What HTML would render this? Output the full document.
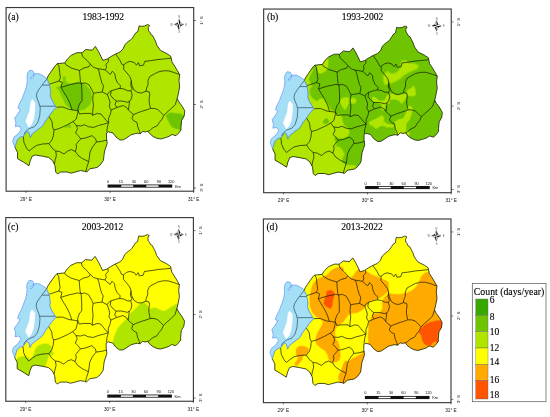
<!DOCTYPE html>
<html><head><meta charset="utf-8"><title>Figure</title>
<style>html,body{margin:0;padding:0;background:#fff}svg{display:block}text{font-family:"Liberation Serif",serif;fill:#000;stroke:#000;stroke-width:0.12px}.s{stroke:none;font-family:"Liberation Sans",sans-serif;font-size:4.7px;fill:#111}</style></head><body>
<svg width="550" height="417" viewBox="0 0 550 417">
<rect width="550" height="417" fill="#fff"/>
<defs>
<clipPath id="rw"><path d="M46.9,78.9 L48,76.2 L50.2,72.9 L52.9,69.1 L55.6,65.3 L57.3,63.6 L59,63.5 L64.8,62.9 L67.4,59 L71.2,55.3 L76.9,52.7 L82,52.7 L85.8,49.5 L92.2,50.2 L95.4,46.4 L98.5,51.5 L101,56.5 L102.8,60.4 L107.2,59 L111,56.5 L115.5,54 L120,52 L123,49 L125,44.5 L128.8,41 L130,40.5 L132.2,38.3 L134.4,35 L135.8,32.8 L138,31.4 L138.4,28.8 L139.1,25.9 L141.5,26.3 L144.5,26 L147.5,24.5 L149.6,25.5 L148.2,27.7 L148.5,30.6 L150,32.5 L150.7,34.3 L152.5,35.4 L154,38.3 L155.5,41.2 L157,45.5 L160.6,50.5 L167,53.7 L170.8,56.3 L172,62 L174,65 L177.2,70.2 L179.7,74.6 L179,80.4 L179.7,86.7 L178.5,93 L177.2,98.5 L179,102 L182.3,106.5 L184.8,111 L184.2,116 L181.6,120.5 L181,126.8 L181,130 L178.5,133.2 L176,135.7 L172,134.5 L169,136.4 L165.7,137.6 L160.6,139 L156.8,138.3 L153,136.4 L149.8,133.8 L148,131.3 L145.4,132 L142.8,131.3 L140.3,133.8 L137.7,133.2 L134.5,133.8 L130.7,135 L127,137.6 L123.5,139.8 L120,140 L116,137 L113,133 L108.5,131.8 L106.5,133 L106.5,138.2 L107.2,143.3 L106,147 L104.6,151 L104,155.4 L103.4,160.5 L100.2,165 L97,167.5 L94.5,168 L90,168.7 L86.8,172 L85,171.3 L80.5,170.6 L75.4,172 L71,173.2 L67,172 L60.7,172 L57.6,174 L55.7,172 L55,165.7 L52.5,160.6 L48.7,157.5 L42.4,156.2 L35.4,155 L32.2,156.2 L30.3,160.6 L29,165.7 L23.3,162 L17.5,158.7 L17.5,152.4 L15,147.3 L15.6,145.4 L17.5,139.6 L20.7,137 L23.3,136.5 L27,131.4 L29,132.6 L30.3,137.7 L32.2,134 L37.3,130 L42.4,126.3 L45.5,121 L49,116.5 L52,112 L56.5,107.2 L55.6,106.2 L54,103.5 L51.8,99.6 L50.2,95.8 L50.7,92.5 L50.2,88.2 L49.1,83.3Z"/></clipPath>
<g id="ol"><path d="M15,147.3 L15.6,145.4 L17.5,139.6 L20.7,137 L23.3,136.5 L27,131.4 L29,132.6 L30.3,137.7 L32.2,134 L37.3,130 L42.4,126.3 L45.5,121 L49,116.5 L52,112 L56.5,107.2 L55.6,106.2 L54,103.5 L51.8,99.6 L50.2,95.8 L50.7,92.5 L50.2,88.2 L49.1,83.3 L46.9,78.9" fill="none" stroke="#4f86f7" stroke-width="0.7" stroke-linejoin="round"/><path d="M46.9,78.9 L48,76.2 L50.2,72.9 L52.9,69.1 L55.6,65.3 L57.3,63.6 L59,63.5 L64.8,62.9 L67.4,59 L71.2,55.3 L76.9,52.7 L82,52.7 L85.8,49.5 L92.2,50.2 L95.4,46.4 L98.5,51.5 L101,56.5 L102.8,60.4 L107.2,59 L111,56.5 L115.5,54 L120,52 L123,49 L125,44.5 L128.8,41 L130,40.5 L132.2,38.3 L134.4,35 L135.8,32.8 L138,31.4 L138.4,28.8 L139.1,25.9 L141.5,26.3 L144.5,26 L147.5,24.5 L149.6,25.5 L148.2,27.7 L148.5,30.6 L150,32.5 L150.7,34.3 L152.5,35.4 L154,38.3 L155.5,41.2 L157,45.5 L160.6,50.5 L167,53.7 L170.8,56.3 L172,62 L174,65 L177.2,70.2 L179.7,74.6 L179,80.4 L179.7,86.7 L178.5,93 L177.2,98.5 L179,102 L182.3,106.5 L184.8,111 L184.2,116 L181.6,120.5 L181,126.8 L181,130 L178.5,133.2 L176,135.7 L172,134.5 L169,136.4 L165.7,137.6 L160.6,139 L156.8,138.3 L153,136.4 L149.8,133.8 L148,131.3 L145.4,132 L142.8,131.3 L140.3,133.8 L137.7,133.2 L134.5,133.8 L130.7,135 L127,137.6 L123.5,139.8 L120,140 L116,137 L113,133 L108.5,131.8 L106.5,133 L106.5,138.2 L107.2,143.3 L106,147 L104.6,151 L104,155.4 L103.4,160.5 L100.2,165 L97,167.5 L94.5,168 L90,168.7 L86.8,172 L85,171.3 L80.5,170.6 L75.4,172 L71,173.2 L67,172 L60.7,172 L57.6,174 L55.7,172 L55,165.7 L52.5,160.6 L48.7,157.5 L42.4,156.2 L35.4,155 L32.2,156.2 L30.3,160.6 L29,165.7 L23.3,162 L17.5,158.7 L17.5,152.4 L15,147.3" fill="none" stroke="#0c1200" stroke-width="0.75" stroke-linejoin="round"/></g>
<g id="lake"><path d="M29.7,70.2 L32.6,70.7 L34.1,73.1 L33.6,75.5 L31.8,76.3 L30.6,78.6 L32.4,78.2 L33.6,76 L34.6,73.7 L38.9,73.6 L41.7,75 L45.6,77.4 L46.9,78.9 L49.1,83.3 L50.2,88.2 L50.7,92.5 L50.2,95.8 L51.8,99.6 L54,103.5 L55.6,106.2 L56.5,107.2 L52,112 L49,116.5 L45.5,121 L42.4,126.3 L37.3,130 L32.2,134 L30.3,137.7 L29,132.6 L27,131.4 L23.3,136.5 L20.7,137 L17.5,139.6 L15.6,145.4 L15,147.3 L12.6,141.2 L13.9,137.2 L18.6,133.3 L21.2,129.3 L19.2,126 L15.3,126.7 L15.9,122.7 L14.6,118 L17.2,114.8 L20.5,109.5 L17.9,108.2 L19.2,104.2 L22,99 L23.5,94.7 L25.4,89.9 L26.4,86.5 L27.2,82 L27.3,79.3 L26.9,76.5 L27.8,72.6Z" fill="#a4dff6" stroke="#4f86f7" stroke-width="0.6" stroke-linejoin="round"/><path d="M32.4,99.6 L35,103 L35,108.2 L34.4,113.5 L33.7,118.7 L31.7,124 L29.1,127.3 L27.8,125.3 L25.8,121.4 L27.8,116 L29.8,110.8 L30.4,105.5 L31,101.6Z" fill="#fff" stroke="#fff" stroke-width="0.6" stroke-linejoin="round"/><path d="M46.9,78.9 L43.1,83.8 L39.8,88.2 L37.1,92.5 L36.4,96 L37.6,100 L39,103 L40.3,108.2 L39.7,116 L37.7,122.7 L34.4,126.7 L29.1,128.6 L25.8,131.3 L23.8,134.6" fill="none" stroke="#2f4a55" stroke-width="0.7"/><path d="M42.5,85.1 L49.6,85.1" fill="none" stroke="#2f4a55" stroke-width="0.7"/><path d="M40,106.2 L55.6,106.2" fill="none" stroke="#2f4a55" stroke-width="0.7"/></g>
<g id="dist" fill="none" stroke="#0c1200" stroke-width="0.68" stroke-linejoin="round"><path d="M57.3,63.6 L59,66.4 L59.7,72.7 L60.4,77.8 L59,81 L51.5,83.5 L49.5,84.2"/><path d="M59,81 L62.3,82.3 L61,87.4"/><path d="M61,87.4 L69.3,84.8 L78.2,82.9 L81.4,83.5"/><path d="M61,87.4 L63.5,91.8 L66.7,96.9 L69.9,103.3 L71.8,109 L72,110"/><path d="M64.8,62.9 L66,64.8 L71.2,68 L79.5,70.5 L83.9,68 L89,66.7 L90.3,64.2 L87,60.4 L82.6,56.5 L81.6,52.7"/><path d="M79.5,70.5 L80,76.9 L80.5,82 L81.4,83.5 L82,91.8 L82,100.7 L79.5,103.9 L77.8,109 L78.2,110.8"/><path d="M81.4,83.5 L85.2,82.9 L89,84.8 L92.2,90.5 L93.4,93.4"/><path d="M90.3,64.2 L93.8,67.4 L97.6,68.6 L99,71.2 L100.2,76.9 L102,83.3 L103.5,85.7 L102.3,92 L96.5,92.7 L93.4,93.4"/><path d="M97.6,68.6 L105.3,69.9 L106.5,67.4 L105.9,64.2 L108.5,61.6 L108.2,58.7"/><path d="M105.3,69.9 L107.2,71.8 L110.4,74.4 L112.3,71.2 L114.8,73.7 L115.5,78.2 L117.4,82.6 L120.5,85.8 L120,88.4 L124,89 L127.7,90.8 L131,90.8"/><path d="M115.5,54 L117.4,56.5 L120,60.4 L121.8,64.2 L123.7,64.8 L123.7,69.3 L127,73 L130,76.9 L131.4,80.7 L130.7,85.2 L132.2,89 L131,90.8 L132.2,95.3 L131,99.7 L129.6,101"/><path d="M123.7,64.8 L127,62.3 L130,61.4 L134.5,62.6 L136.5,65.2 L138.4,62.6 L139.6,65.8 L143.5,65.2 L144.7,61.4 L150.5,60.7 L158,59.5 L165.7,58.8 L171,58.2"/><path d="M179.7,74.6 L174.6,72.7 L168.3,70.8 L163.2,70.8 L158,72 L154.3,74 L149.8,76.5 L148,80.4 L148,84.8 L146.6,88 L146,91.2 L149.2,91.8 L149.8,94.4 L149.2,98.2 L149.2,102.6 L150.5,108.4 L154.3,108.4 L158,109.6 L160.6,112.2 L163.8,115.4"/><path d="M146,91.2 L141.5,93 L137.7,92.5 L134,90 L132,85.5 L131,80.7"/><path d="M177.2,98.5 L175.3,104.5 L171.5,108.4 L167,112.2 L163.8,115.4 L162,119.2 L159.4,122.4 L157.5,125.5 L152.4,128 L149.8,130.6 L148,131.3"/><path d="M150.5,108.4 L147.3,109.6 L142.8,111 L137.7,112.8 L133.3,114.7 L132.8,113.7 L131,112.5 L128.4,110 L129,105.5 L129.6,101"/><path d="M133.3,114.7 L132,118.5 L134,121 L137,122.4 L137.7,126.8 L139.6,131.3 L140.3,133.8"/><path d="M102.3,92 L107.4,94.6 L108.6,92.7 L111.2,90.8 L117,89 L120,88.4"/><path d="M107.4,94.6 L108.6,97.8 L110,102.3 L109.3,106.7 L111.2,110 L110.5,113.7 L108.6,118.2 L108.6,122.6 L107.4,127 L106.7,132"/><path d="M111.2,90.8 L110.5,95.3 L113.7,99 L116.3,101 L115,104.8 L117,107.4 L111.2,110"/><path d="M116.3,101 L122,101 L127.7,102.3 L129.6,101"/><path d="M117,107.4 L123.3,105.5 L126.5,107.4 L128.4,110"/><path d="M93.4,93.4 L92.7,99 L93.4,105.5 L92.7,111.8 L92.5,115.3"/><path d="M56.5,107.2 L62.9,107 L69.3,109.5 L74.4,110.2 L78.2,110.8 L77.5,114 L76.3,119 L73,121.6 L67.4,124.8 L59,128.6 L54,130"/><path d="M78.2,110.8 L79.5,114 L83.9,113.4 L91,113.4 L92.5,115.3 L97.3,113.4 L101,114 L103.6,117.2 L106.2,120.4 L108.6,122.6"/><path d="M49,116.5 L52,121.6 L52.7,127.4 L54,130 L53.4,135.6 L52,140 L49,143.6 L42.4,144 L36.6,145.4 L32.8,148 L29,151 L26.5,148 L24,142.8 L23.3,136.5"/><path d="M49,143.6 L52,148 L55.7,151 L56.4,155.5 L55,160.6 L54.5,164"/><path d="M73,121.6 L76.3,125.5 L77.5,128.6 L75.6,133 L78.2,135.6 L80.7,138.8 L76.9,143.3 L76,144.5 L76.6,147 L75.4,151.5"/><path d="M76.3,125.5 L80.7,126 L84.5,124.8 L88.4,126.7 L93.5,127.4 L98.5,125.5 L103.6,124.2 L108.6,122.6"/><path d="M80.7,138.8 L84.5,138.2 L88.4,137 L92,135.6 L95.7,138.8 L96.4,142 L92.5,147 L90,152.2 L89.4,157.3 L88.7,161.7 L86.8,167.5 L85.8,171.6"/><path d="M96.4,142 L101.5,141.4 L106.8,140"/><path d="M55.7,151 L59.5,151.5 L64,154 L67.7,151 L71.5,149.6 L75.4,151.5 L78,155.4 L82.4,158.5 L88.7,161.7"/></g>
</defs>
<g transform="translate(0,0)">
<use href="#lake"/>
<g clip-path="url(#rw)"><rect x="0" y="0" width="200" height="200" fill="#b0e500"/><path d="M62.9,76.5 L66,76.5 L65.5,81 L69.3,83.5 L79.5,81.6 L85.2,84.2 L90.3,90 L92.2,97 L90.3,104.5 L84.5,109.6 L78.2,110.8 L70.5,109.6 L65.5,104.5 L62.3,98.2 L59,90.5 L56,87.4 L60.4,85.5 L62.9,82.9Z" fill="#7bcc06"/><path d="M61,87.4 L69.3,84.8 L78.2,82.9 L81.4,83.5 L82,91.8 L82,100.7 L79.5,103.9 L77.8,109 L78.2,110.8 L72,110 L69.9,103.3 L66.7,96.9 L63.5,91.8Z" fill="#6ec400"/><path d="M63.5,128.6 L67.4,124.8 L70,123.5 L71.2,128 L67,127.2Z" fill="#7bcc06"/><path d="M165.5,114.7 L170.8,112.3 L176,113 L181,113.5 L186,116.6 L183,121.7 L182,131 L177.2,129.2 L172.2,127.8 L169,123 L167,119.2Z" fill="#7bcc06"/><path d="M166.8,115.2 L170.8,113.3 L176,114 L181,114.5 L186,116.6 L183,121.7 L182,130 L177.2,128.2 L173.2,126.8 L170,122.5 L168.2,119Z" fill="#6ec400"/></g>
<use href="#dist"/><use href="#ol"/><g><rect x="6.1" y="7.55" width="187.6" height="183.65" fill="none" stroke="#3a3a3a" stroke-width="1.15"/><line x1="26" y1="191" x2="26" y2="193" stroke="#222" stroke-width="0.6"/><line x1="110" y1="191" x2="110" y2="193" stroke="#222" stroke-width="0.6"/><line x1="193.6" y1="191" x2="193.6" y2="193" stroke="#222" stroke-width="0.6"/><line x1="194" y1="20.5" x2="196" y2="20.5" stroke="#222" stroke-width="0.6"/><line x1="194" y1="104.5" x2="196" y2="104.5" stroke="#222" stroke-width="0.6"/><line x1="194" y1="188" x2="196" y2="188" stroke="#222" stroke-width="0.6"/><text class="s" x="26" y="200.7" text-anchor="middle">29° E</text><text class="s" x="110" y="200.7" text-anchor="middle">30° E</text><text class="s" x="193.7" y="200.7" text-anchor="middle">31° E</text><text class="s" transform="translate(202.5,20.5) rotate(-90)" text-anchor="middle" style="font-size:4.4px">1° S</text><text class="s" transform="translate(202.5,104.4) rotate(-90)" text-anchor="middle" style="font-size:4.4px">2° S</text><text class="s" transform="translate(202.5,187.7) rotate(-90)" text-anchor="middle" style="font-size:4.4px">3° S</text><rect x="107.6" y="184.5" width="64.6" height="3.1" fill="#111"/><rect x="121.2" y="185.3" width="12" height="1.5" fill="#fff"/><rect x="146.3" y="185.3" width="12.2" height="1.5" fill="#fff"/><text class="s" x="108.1" y="183.0" text-anchor="middle" style="font-size:3.9px">0</text><text class="s" x="121" y="183.0" text-anchor="middle" style="font-size:3.9px">15</text><text class="s" x="133.8" y="183.0" text-anchor="middle" style="font-size:3.9px">30</text><text class="s" x="146.2" y="183.0" text-anchor="middle" style="font-size:3.9px">60</text><text class="s" x="159" y="183.0" text-anchor="middle" style="font-size:3.9px">90</text><text class="s" x="171.2" y="183.0" text-anchor="middle" style="font-size:3.9px">120</text><text class="s" x="174.9" y="187.9" style="font-size:4px">Km</text><g transform="translate(179,24.4)"><path d="M0,-5.3 L1.5,-1.5 L4.7,0 L1.5,1.5 L0,5.3 L-1.5,1.5 L-4.7,0 L-1.5,-1.5Z" fill="#fff" stroke="#333" stroke-width="0.4"/><path d="M0,-5.3 L1.5,-1.5 L0,0Z M4.7,0 L1.5,1.5 L0,0Z M0,5.3 L-1.5,1.5 L0,0Z M-4.7,0 L-1.5,-1.5 L0,0Z" fill="#111"/><text class="s" x="0.2" y="-6.3" text-anchor="middle" style="font-size:2.6px;fill:#555">N</text><text class="s" x="0.2" y="8.9" text-anchor="middle" style="font-size:2.6px;fill:#555">S</text><text class="s" x="7.2" y="1.2" text-anchor="middle" style="font-size:2.6px;fill:#555">E</text><text class="s" x="-7.6" y="1.2" text-anchor="middle" style="font-size:2.6px;fill:#555">W</text></g></g>
</g>
<text x="8.1" y="19.8" font-size="9.7">(a)</text>
<text x="103.3" y="19.8" font-size="9.6" text-anchor="middle">1983-1992</text>
<g transform="translate(257.55,1.5)">
<use href="#lake"/>
<g clip-path="url(#rw)"><rect x="0" y="0" width="200" height="200" fill="#6ec400"/><path d="M46,79 L47,78.2 L49.5,73 L52.7,68.6 L55.3,65.5 L54.6,69.3 L52,74.4 L50.8,78.2 L52.7,82 L54,83.8 L52,87.6 L52,92.7 L54,96.5 L57.2,99 L59.7,100.4 L62.3,97.8 L65.5,97.2 L68,100.4 L70.5,104.2 L72.5,107.4 L75,110 L78.2,111.2 L78.2,113.7 L82,113.7 L83.9,115.6 L84.5,119.5 L86.5,124.5 L90.3,127 L91.5,130.8 L90.3,134 L85.8,136.5 L80.7,136.3 L77.9,134.3 L76.3,136.3 L77.2,139.7 L78.8,142.7 L77.2,144.8 L82,146 L84.5,148.6 L86.5,152.5 L84.5,157 L83.9,160.7 L86.5,162.6 L89.6,164 L94,164 L97.7,164.5 L99,166.5 L100,172 L90,180 L10,180 L5,140 L30,120 L45,100Z" fill="#b0e500" stroke="#8fd500" stroke-width="1.92" stroke-linejoin="round" paint-order="stroke"/><path d="M67.4,117 L70,117 L71.8,119.5 L70,122 L66,122.6 L65.5,120Z" fill="#6ec400"/><path d="M59,64.2 L65.5,62.3 L68.6,57.8 L70.5,57.2 L70.5,61.6 L70,66.7 L67.4,70 L63.5,71.8 L61,71.2 L59.7,67.4Z" fill="#b0e500" stroke="#8fd500" stroke-width="1.28" stroke-linejoin="round" paint-order="stroke"/><path d="M83.9,97.2 L87.7,96 L91,96.5 L91,101.6 L89,106 L87,108 L84.5,104.2 L82.6,100.4Z" fill="#b0e500" stroke="#8fd500" stroke-width="1.28" stroke-linejoin="round" paint-order="stroke"/><path d="M92.4,97.2 L96.6,96.5 L98.7,99 L97.3,101.8 L92.8,101.6Z" fill="#b0e500" stroke="#8fd500" stroke-width="1.28" stroke-linejoin="round" paint-order="stroke"/><path d="M126.3,74.8 L129.5,70.4 L133.9,72.9 L139.6,71.6 L143.5,66.5 L144.7,60.2 L147.9,59.5 L150.5,62 L156.8,62.7 L160.6,64.6 L158.7,67.2 L152.4,69.7 L146.6,72.9 L141.5,77.4 L136.5,80 L131.4,81.8 L127.5,82.5 L126.3,79.3Z" fill="#b0e500" stroke="#8fd500" stroke-width="2.56" stroke-linejoin="round" paint-order="stroke"/><path d="M150.5,88.2 L153.6,87 L156.2,84.4 L157.5,88.2 L158,93.3 L155,94.5 L151,94 L149.2,91.4Z" fill="#b0e500" stroke="#8fd500" stroke-width="1.28" stroke-linejoin="round" paint-order="stroke"/><path d="M130.7,94 L131.5,92.7 L134.5,92.6 L139.6,94 L144,93.3 L148.5,92 L149.2,95 L147.3,98.4 L144,101.8 L141.5,99 L137.7,97.4 L132.6,98 L131.4,102 L129.5,102.5 L130,97Z" fill="#b0e500" stroke="#8fd500" stroke-width="1.28" stroke-linejoin="round" paint-order="stroke"/><path d="M115,95.3 L118,96.5 L122,99.7 L127,99 L129.5,94 L131.5,92.7 L132.7,96.5 L131.5,100.4 L129,103.5 L125.7,104.2 L122,101.6 L117.5,100.4 L115,99Z" fill="#b0e500" stroke="#8fd500" stroke-width="1.28" stroke-linejoin="round" paint-order="stroke"/><path d="M150.5,105.3 L153,104.6 L155,107.2 L153.7,113 L151.8,118.2 L148.6,122 L148.5,125.6 L148,130.7 L147.4,134 L139,135 L137.8,127 L137.2,120.7 L141,118.2 L146,117 L148.5,111.6 L149.8,107.8Z" fill="#b0e500" stroke="#8fd500" stroke-width="1.28" stroke-linejoin="round" paint-order="stroke"/><path d="M125,102.7 L127.5,104 L127,107.8 L125,109 L123.5,106Z" fill="#b0e500" stroke="#8fd500" stroke-width="0.96" stroke-linejoin="round" paint-order="stroke"/><path d="M125,118 L128.8,121.8 L131.4,124.4 L130,126.3 L126.3,123.7 L124,120.5Z" fill="#b0e500" stroke="#8fd500" stroke-width="0.96" stroke-linejoin="round" paint-order="stroke"/><path d="M111.7,120.7 L116.8,118.2 L122,115.6 L124.5,113.7 L126.4,117 L125.7,120.7 L129.5,122.6 L133.4,123.3 L136,124 L135.3,125.8 L129.5,125.2 L124.5,124 L121.3,125.2 L118.5,127 L115.5,124.5 L112.4,123.3Z" fill="#b0e500" stroke="#8fd500" stroke-width="1.28" stroke-linejoin="round" paint-order="stroke"/><path d="M148.6,130.2 L150.5,129.5 L152.5,132.7 L150,134.5 L148.6,133Z" fill="#b0e500" stroke="#8fd500" stroke-width="0.96" stroke-linejoin="round" paint-order="stroke"/></g>
<use href="#dist"/><use href="#ol"/><g><rect x="6.1" y="7.55" width="187.6" height="183.65" fill="none" stroke="#3a3a3a" stroke-width="1.15"/><line x1="26" y1="191" x2="26" y2="193" stroke="#222" stroke-width="0.6"/><line x1="110" y1="191" x2="110" y2="193" stroke="#222" stroke-width="0.6"/><line x1="193.6" y1="191" x2="193.6" y2="193" stroke="#222" stroke-width="0.6"/><line x1="194" y1="20.5" x2="196" y2="20.5" stroke="#222" stroke-width="0.6"/><line x1="194" y1="104.5" x2="196" y2="104.5" stroke="#222" stroke-width="0.6"/><line x1="194" y1="188" x2="196" y2="188" stroke="#222" stroke-width="0.6"/><text class="s" x="26" y="200.7" text-anchor="middle">29° E</text><text class="s" x="110" y="200.7" text-anchor="middle">30° E</text><text class="s" x="193.7" y="200.7" text-anchor="middle">31° E</text><text class="s" transform="translate(202.5,20.5) rotate(-90)" text-anchor="middle" style="font-size:4.4px">1° S</text><text class="s" transform="translate(202.5,104.4) rotate(-90)" text-anchor="middle" style="font-size:4.4px">2° S</text><text class="s" transform="translate(202.5,187.7) rotate(-90)" text-anchor="middle" style="font-size:4.4px">3° S</text><rect x="107.6" y="184.5" width="64.6" height="3.1" fill="#111"/><rect x="121.2" y="185.3" width="12" height="1.5" fill="#fff"/><rect x="146.3" y="185.3" width="12.2" height="1.5" fill="#fff"/><text class="s" x="108.1" y="183.0" text-anchor="middle" style="font-size:3.9px">0</text><text class="s" x="121" y="183.0" text-anchor="middle" style="font-size:3.9px">15</text><text class="s" x="133.8" y="183.0" text-anchor="middle" style="font-size:3.9px">30</text><text class="s" x="146.2" y="183.0" text-anchor="middle" style="font-size:3.9px">60</text><text class="s" x="159" y="183.0" text-anchor="middle" style="font-size:3.9px">90</text><text class="s" x="171.2" y="183.0" text-anchor="middle" style="font-size:3.9px">120</text><text class="s" x="174.9" y="187.9" style="font-size:4px">Km</text><g transform="translate(179,24.4)"><path d="M0,-5.3 L1.5,-1.5 L4.7,0 L1.5,1.5 L0,5.3 L-1.5,1.5 L-4.7,0 L-1.5,-1.5Z" fill="#fff" stroke="#333" stroke-width="0.4"/><path d="M0,-5.3 L1.5,-1.5 L0,0Z M4.7,0 L1.5,1.5 L0,0Z M0,5.3 L-1.5,1.5 L0,0Z M-4.7,0 L-1.5,-1.5 L0,0Z" fill="#111"/><text class="s" x="0.2" y="-6.3" text-anchor="middle" style="font-size:2.6px;fill:#555">N</text><text class="s" x="0.2" y="8.9" text-anchor="middle" style="font-size:2.6px;fill:#555">S</text><text class="s" x="7.2" y="1.2" text-anchor="middle" style="font-size:2.6px;fill:#555">E</text><text class="s" x="-7.6" y="1.2" text-anchor="middle" style="font-size:2.6px;fill:#555">W</text></g></g>
</g>
<text x="267" y="20.0" font-size="9.7">(b)</text>
<text x="362.5" y="20.0" font-size="9.6" text-anchor="middle">1993-2002</text>
<g transform="translate(-0.3,210.05)">
<use href="#lake"/>
<g clip-path="url(#rw)"><rect x="0" y="0" width="200" height="200" fill="#ffff00"/><path d="M17.4,150 L18.8,147.7 L24.7,146.3 L28.3,147.7 L30.5,150 L33.4,146.3 L34.8,143.4 L35.6,139.7 L38.5,136 L43.6,133.9 L47.9,133.9 L51.6,136.8 L51.6,140.5 L53.8,143.4 L52.3,144.8 L48.7,144.8 L47.9,148.5 L46.5,152.8 L45,156.8 L45,170 L10,170 L10,150Z" fill="#b0e500" stroke="#d6f000" stroke-width="1.6" stroke-linejoin="round" paint-order="stroke"/><path d="M113.4,132.5 L115,126 L118.3,118.5 L123.2,112.8 L128.1,108.7 L131.4,103 L136.3,98.9 L140.4,94 L143.7,92.4 L146.9,94.8 L149.4,98.9 L156,98 L160.8,100.5 L165,101.4 L169,98.9 L174,95.6 L178,94 L192,94 L192,145 L113,145Z" fill="#b0e500" stroke="#d6f000" stroke-width="1.6" stroke-linejoin="round" paint-order="stroke"/></g>
<use href="#dist"/><use href="#ol"/><g><rect x="6.1" y="7.55" width="187.6" height="183.65" fill="none" stroke="#3a3a3a" stroke-width="1.15"/><line x1="26" y1="191" x2="26" y2="193" stroke="#222" stroke-width="0.6"/><line x1="110" y1="191" x2="110" y2="193" stroke="#222" stroke-width="0.6"/><line x1="193.6" y1="191" x2="193.6" y2="193" stroke="#222" stroke-width="0.6"/><line x1="194" y1="20.5" x2="196" y2="20.5" stroke="#222" stroke-width="0.6"/><line x1="194" y1="104.5" x2="196" y2="104.5" stroke="#222" stroke-width="0.6"/><line x1="194" y1="188" x2="196" y2="188" stroke="#222" stroke-width="0.6"/><text class="s" x="26" y="200.7" text-anchor="middle">29° E</text><text class="s" x="110" y="200.7" text-anchor="middle">30° E</text><text class="s" x="193.7" y="200.7" text-anchor="middle">31° E</text><text class="s" transform="translate(202.5,20.5) rotate(-90)" text-anchor="middle" style="font-size:4.4px">1° S</text><text class="s" transform="translate(202.5,104.4) rotate(-90)" text-anchor="middle" style="font-size:4.4px">2° S</text><text class="s" transform="translate(202.5,187.7) rotate(-90)" text-anchor="middle" style="font-size:4.4px">3° S</text><rect x="107.6" y="184.5" width="64.6" height="3.1" fill="#111"/><rect x="121.2" y="185.3" width="12" height="1.5" fill="#fff"/><rect x="146.3" y="185.3" width="12.2" height="1.5" fill="#fff"/><text class="s" x="108.1" y="183.0" text-anchor="middle" style="font-size:3.9px">0</text><text class="s" x="121" y="183.0" text-anchor="middle" style="font-size:3.9px">15</text><text class="s" x="133.8" y="183.0" text-anchor="middle" style="font-size:3.9px">30</text><text class="s" x="146.2" y="183.0" text-anchor="middle" style="font-size:3.9px">60</text><text class="s" x="159" y="183.0" text-anchor="middle" style="font-size:3.9px">90</text><text class="s" x="171.2" y="183.0" text-anchor="middle" style="font-size:3.9px">120</text><text class="s" x="174.9" y="187.9" style="font-size:4px">Km</text><g transform="translate(179,24.4)"><path d="M0,-5.3 L1.5,-1.5 L4.7,0 L1.5,1.5 L0,5.3 L-1.5,1.5 L-4.7,0 L-1.5,-1.5Z" fill="#fff" stroke="#333" stroke-width="0.4"/><path d="M0,-5.3 L1.5,-1.5 L0,0Z M4.7,0 L1.5,1.5 L0,0Z M0,5.3 L-1.5,1.5 L0,0Z M-4.7,0 L-1.5,-1.5 L0,0Z" fill="#111"/><text class="s" x="0.2" y="-6.3" text-anchor="middle" style="font-size:2.6px;fill:#555">N</text><text class="s" x="0.2" y="8.9" text-anchor="middle" style="font-size:2.6px;fill:#555">S</text><text class="s" x="7.2" y="1.2" text-anchor="middle" style="font-size:2.6px;fill:#555">E</text><text class="s" x="-7.6" y="1.2" text-anchor="middle" style="font-size:2.6px;fill:#555">W</text></g></g>
</g>
<text x="7.7" y="229.8" font-size="9.7">(c)</text>
<text x="102.6" y="229.8" font-size="9.6" text-anchor="middle">2003-2012</text>
<g transform="translate(257.3,211.45)">
<use href="#lake"/>
<g clip-path="url(#rw)"><rect x="0" y="0" width="200" height="200" fill="#ffff00"/><path d="M59.5,132.7 L58.2,129 L58.9,125.8 L60.1,122 L62.7,117.5 L65.2,113 L65.9,110 L62.7,107.4 L58.2,104.2 L55,100.4 L53.1,95.3 L52.5,87.6 L53.1,83.3 L54.4,76.9 L56.3,71.8 L59.5,68.6 L62,66.7 L65.9,65.5 L69.7,63.5 L73.5,59.7 L77.3,57.2 L81.1,56 L84.3,55.3 L86.2,57.2 L85.6,60.4 L88.1,62.9 L90.7,66 L93.9,66.3 L96.8,63.5 L98.7,60.4 L101,58 L104,58 L106.9,59.7 L109.5,60.4 L114.6,63.5 L119.7,65.5 L124.1,67.4 L128.6,69.3 L131.1,71.2 L131.1,75 L131.1,79.3 L129.5,81 L126.1,83.8 L122.3,86.4 L117.2,88.3 L113.4,89.5 L110.2,92 L107.7,95.3 L104.5,98.5 L100.2,101 L95.1,101.6 L91.3,103 L88.8,106 L86.2,110 L83,112.5 L79.9,114.4 L77.9,117.5 L77.3,122 L77.9,127 L80.5,130.2 L81.8,134 L82.4,139 L83,144.8 L81.8,148.6 L78.6,150.5 L73.5,150 L71.6,147.4 L70.3,143 L67.8,139 L63.3,136Z" fill="#ffaa00" stroke="#ffd400" stroke-width="1.28" stroke-linejoin="round" paint-order="stroke"/><path d="M129.5,84 L131,82.6 L133,82.5 L138.1,83 L143.2,83 L148.3,81.8 L153.4,80 L157.2,77.4 L160.4,73.5 L162.3,69 L164.9,64 L168,61.5 L171.2,60.8 L176,58 L192,58 L192,145 L111.5,145 L111.5,132 L110.9,124.5 L111.5,118.2 L111.5,113 L112.8,108.6 L114.7,104.8 L116,102.3 L119.8,102.3 L123.6,100.4 L125.5,96.5 L124.9,91.5 L126.1,87.4Z" fill="#ffaa00" stroke="#ffd400" stroke-width="1.28" stroke-linejoin="round" paint-order="stroke"/><path d="M87.5,150 L89.4,149.3 L91.3,150.5 L95.1,147.4 L100.2,144.8 L104.7,142.3 L106.6,139 L112,139 L112,176 L87.5,176 L83.7,172 L81.1,167 L81.8,163.3 L84.3,158.8 L85.6,154.4Z" fill="#ffaa00" stroke="#ffd400" stroke-width="1.28" stroke-linejoin="round" paint-order="stroke"/><path d="M39.6,136.5 L42.8,134.6 L47.9,135.3 L51,137.2 L51,140.4 L48.5,143 L45.3,144.8 L44.7,148 L42.1,151.2 L40.2,153.7 L38.3,154.4 L37.7,151.8 L40.2,148.6 L40.9,145.5 L38.9,143 L38.9,139Z" fill="#ffaa00" stroke="#ffd400" stroke-width="1.28" stroke-linejoin="round" paint-order="stroke"/><path d="M69.7,79.5 L73.5,78.8 L76.7,80.7 L76.7,84.5 L75.4,89 L74.8,94 L73.5,97.2 L70.9,96 L67.8,94 L66.5,92 L67.8,86.4 L69,84.5Z" fill="#ff5500" stroke="#ff8000" stroke-width="0.96" stroke-linejoin="round" paint-order="stroke"/><path d="M161.7,120.5 L163.6,117.4 L167.4,113.5 L172.5,111 L177.6,109.7 L181.4,109 L186,110.4 L186,114.2 L181.4,119.3 L180.1,125.6 L180.8,130.7 L178.2,130 L175.7,130.7 L173.8,133.3 L170,134 L166.8,132 L164.9,128.2 L164.2,124.4Z" fill="#ff5500" stroke="#ff8000" stroke-width="0.96" stroke-linejoin="round" paint-order="stroke"/></g>
<use href="#dist"/><use href="#ol"/><g><rect x="6.1" y="7.55" width="187.6" height="183.65" fill="none" stroke="#3a3a3a" stroke-width="1.15"/><line x1="26" y1="191" x2="26" y2="193" stroke="#222" stroke-width="0.6"/><line x1="110" y1="191" x2="110" y2="193" stroke="#222" stroke-width="0.6"/><line x1="193.6" y1="191" x2="193.6" y2="193" stroke="#222" stroke-width="0.6"/><line x1="194" y1="20.5" x2="196" y2="20.5" stroke="#222" stroke-width="0.6"/><line x1="194" y1="104.5" x2="196" y2="104.5" stroke="#222" stroke-width="0.6"/><line x1="194" y1="188" x2="196" y2="188" stroke="#222" stroke-width="0.6"/><text class="s" x="26" y="200.7" text-anchor="middle">29° E</text><text class="s" x="110" y="200.7" text-anchor="middle">30° E</text><text class="s" x="193.7" y="200.7" text-anchor="middle">31° E</text><text class="s" transform="translate(202.5,20.5) rotate(-90)" text-anchor="middle" style="font-size:4.4px">1° S</text><text class="s" transform="translate(202.5,104.4) rotate(-90)" text-anchor="middle" style="font-size:4.4px">2° S</text><text class="s" transform="translate(202.5,187.7) rotate(-90)" text-anchor="middle" style="font-size:4.4px">3° S</text><rect x="107.6" y="184.5" width="64.6" height="3.1" fill="#111"/><rect x="121.2" y="185.3" width="12" height="1.5" fill="#fff"/><rect x="146.3" y="185.3" width="12.2" height="1.5" fill="#fff"/><text class="s" x="108.1" y="183.0" text-anchor="middle" style="font-size:3.9px">0</text><text class="s" x="121" y="183.0" text-anchor="middle" style="font-size:3.9px">15</text><text class="s" x="133.8" y="183.0" text-anchor="middle" style="font-size:3.9px">30</text><text class="s" x="146.2" y="183.0" text-anchor="middle" style="font-size:3.9px">60</text><text class="s" x="159" y="183.0" text-anchor="middle" style="font-size:3.9px">90</text><text class="s" x="171.2" y="183.0" text-anchor="middle" style="font-size:3.9px">120</text><text class="s" x="174.9" y="187.9" style="font-size:4px">Km</text><g transform="translate(179,24.4)"><path d="M0,-5.3 L1.5,-1.5 L4.7,0 L1.5,1.5 L0,5.3 L-1.5,1.5 L-4.7,0 L-1.5,-1.5Z" fill="#fff" stroke="#333" stroke-width="0.4"/><path d="M0,-5.3 L1.5,-1.5 L0,0Z M4.7,0 L1.5,1.5 L0,0Z M0,5.3 L-1.5,1.5 L0,0Z M-4.7,0 L-1.5,-1.5 L0,0Z" fill="#111"/><text class="s" x="0.2" y="-6.3" text-anchor="middle" style="font-size:2.6px;fill:#555">N</text><text class="s" x="0.2" y="8.9" text-anchor="middle" style="font-size:2.6px;fill:#555">S</text><text class="s" x="7.2" y="1.2" text-anchor="middle" style="font-size:2.6px;fill:#555">E</text><text class="s" x="-7.6" y="1.2" text-anchor="middle" style="font-size:2.6px;fill:#555">W</text></g></g>
</g>
<text x="266.4" y="229.9" font-size="9.7">(d)</text>
<text x="362" y="229.9" font-size="9.6" text-anchor="middle">2013-2022</text>
<rect x="472.3" y="283.5" width="73.7" height="118.2" fill="#fff" stroke="#555" stroke-width="0.7"/>
<text x="473.8" y="294.6" font-size="9.8">Count (days/year)</text>
<rect x="475.8" y="299" width="12.2" height="16.5" fill="#38a800" stroke="#666" stroke-width="0.4"/>
<rect x="475.8" y="315.5" width="12.2" height="16.0" fill="#6ec400" stroke="#666" stroke-width="0.4"/>
<rect x="475.8" y="331.5" width="12.2" height="16.5" fill="#b0e500" stroke="#666" stroke-width="0.4"/>
<rect x="475.8" y="348" width="12.2" height="16.5" fill="#ffff00" stroke="#666" stroke-width="0.4"/>
<rect x="475.8" y="364.5" width="12.2" height="16.0" fill="#ffaa00" stroke="#666" stroke-width="0.4"/>
<rect x="475.8" y="380.5" width="12.2" height="18.5" fill="#ff5500" stroke="#666" stroke-width="0.4"/>
<text x="489.7" y="303.2" font-size="9.5">6</text>
<text x="489.7" y="319.9" font-size="9.5">8</text>
<text x="489.7" y="335.2" font-size="9.5">10</text>
<text x="489.7" y="350.7" font-size="9.5">12</text>
<text x="489.7" y="364.5" font-size="9.5">14</text>
<text x="489.7" y="382.6" font-size="9.5">16</text>
<text x="489.7" y="398.4" font-size="9.5">18</text>
</svg></body></html>
